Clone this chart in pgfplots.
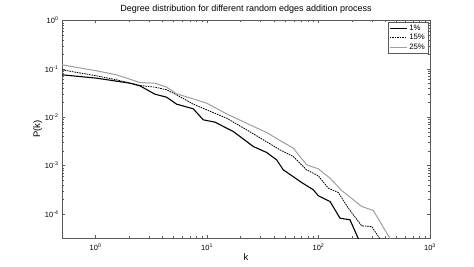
\documentclass[border=0pt]{standalone}
\usepackage{fontspec}
\setmainfont{Liberation Sans}
\usepackage{pgfplots}
\pgfplotsset{compat=1.18}

% Degree distribution P(k) for three edge-addition fractions
\pgfplotstableread{
k P
0.5 0.0752
1.021 0.0641
2.033 0.0505
2.499 0.0445
3.408 0.0299
4.337 0.0259
5.333 0.0186
7.522 0.0149
9.252 0.00881
11.77 0.00789
17.19 0.00505
25.99 0.00247
34.24 0.00186
42.10 0.00131
48.32 0.000813
70.59 0.000445
89.82 0.000314
99.59 0.000236
126.8 0.000180
155.8 0.0000813
191.6 0.0000752
230.0 0.0000290
}\onepct

\pgfplotstableread{
k P
0.5 0.0953
1.021 0.0716
1.543 0.0592
2.499 0.0452
3.408 0.0418
4.337 0.0368
5.333 0.0290
7.522 0.0186
9.911 0.0142
14.98 0.00953
22.65 0.00547
31.96 0.00340
45.10 0.00211
59.41 0.00153
78.26 0.000813
99.59 0.000611
122.4 0.000340
150.5 0.000276
185.1 0.000131
243.9 0.0000565
299.9 0.0000547
360.0 0.0000290
}\fifteenpct

\pgfplotstableread{
k P
0.5 0.121
1.021 0.0910
1.543 0.0752
2.499 0.0521
3.408 0.0505
4.337 0.0418
5.333 0.0304
7.522 0.0239
9.911 0.0195
14.98 0.0117
24.27 0.00693
34.24 0.00482
46.69 0.00314
59.41 0.00229
78.26 0.00103
99.59 0.000853
126.8 0.000547
161.3 0.000304
243.9 0.000142
310.4 0.000117
445.0 0.0000290
}\twentyfivepct

\definecolor{lightline}{gray}{0.62}
\definecolor{frame}{gray}{0.35}

\begin{document}
\begin{tikzpicture}[x=1pt,y=1pt]
\path[use as bounding box] (0,0) rectangle (474,267);
\begin{axis}[
  at={(62pt,29pt)}, anchor=south west,
  scale only axis,
  width=368pt, height=217.5pt,
  xmode=log, ymode=log,
  xmin=0.5, xmax=1000,
  ymin=3.1623e-5, ymax=1,
  xtick={1,10,100,1000},
  ytick={1e-4,1e-3,1e-2,1e-1,1},
  tick align=inside,
  major tick length=3pt, minor tick length=1.8pt,
  axis line style={frame, line width=0.6pt},
  every tick/.style={frame, line width=0.4pt},
  tick label style={font=\fontsize{7.5}{8}\selectfont, text=black},
  /pgf/number format/assume math mode=true,
  log number format basis/.code 2 args={\pgfmathtruncatemacro\e{#2}#1\textsuperscript{\e}},
  xticklabel style={yshift=-2pt},
  title={Degree distribution for different random edges addition process},
  title style={font=\fontsize{9}{10}\selectfont, yshift=-2pt},
  xlabel={k}, ylabel={P(k)},
  label style={font=\fontsize{9.5}{10}\selectfont},
  xlabel style={yshift=4pt},
  ylabel style={yshift=-4pt},
  legend style={font=\fontsize{7.8}{8}\selectfont, draw=frame, line width=0.5pt,
    inner sep=1pt, row sep=-1.5pt, at={(0.995,0.995)}, anchor=north east,
    legend cell align=left},
  legend image post style={line width=0.8pt},
]
\addplot[black, line width=1.1pt] table {\onepct};
\addlegendentry{1\%}
\addplot[black, line width=0.8pt, dash pattern=on 1.6pt off 0.9pt] table {\fifteenpct};
\addlegendentry{15\%}
\addplot[lightline, line width=1.0pt] table {\twentyfivepct};
\addlegendentry{25\%}
\end{axis}
\end{tikzpicture}
\end{document}
